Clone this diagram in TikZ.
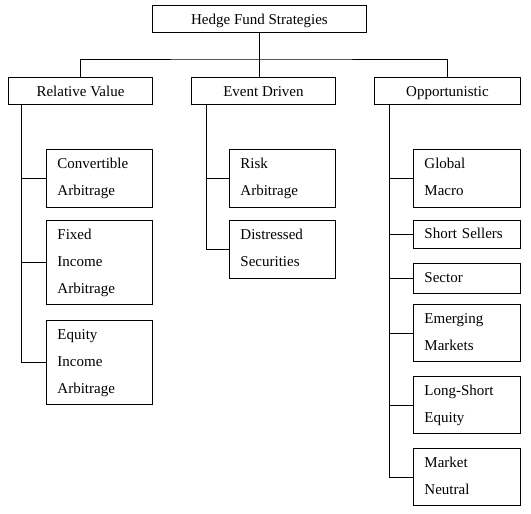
\documentclass[tikz,border=0pt]{standalone}
\usepackage{fontspec}
\setmainfont{Liberation Serif}
\begin{document}
\begin{tikzpicture}[x=1pt,y=-1pt,
  box/.style={draw=black, line width=0.9pt, inner sep=0pt, anchor=north west,
    font=\fontsize{15}{27}\selectfont, text=black},
  head/.style={box, align=center, minimum height=27pt, text height=11pt, text depth=-2pt},
  leaf/.style={box, align=left, inner xsep=11pt, minimum width=#1, text width=#1-22pt,
    execute at begin node={\rule[-4pt]{0pt}{16pt}}, execute at end node={\rule[-4pt]{0pt}{16pt}}},
  conn/.style={draw=black, line width=0.9pt}]
\useasboundingbox (0,0) rectangle (531,514);
% level 0 and 1
\node[head, minimum width=214pt] (top) at (152,5) {Hedge Fund Strategies};
\node[head, minimum width=144pt] (rv) at (8,77) {Relative Value};
\node[head, minimum width=144pt] (ed) at (191,77) {Event Driven};
\node[head, minimum width=146pt] (op) at (374,77) {Opportunistic};
% relative value
\node[leaf=106pt, minimum height=58pt] (conv) at (46,149) {Convertible\\Arbitrage};
\node[leaf=106pt, minimum height=84pt] (fia) at (46,220) {Fixed\\Income\\Arbitrage};
\node[leaf=106pt, minimum height=84pt] (eia) at (46,320) {Equity\\Income\\Arbitrage};
% event driven
\node[leaf=106pt, minimum height=58pt] (risk) at (229,149) {Risk\\Arbitrage};
\node[leaf=106pt, minimum height=58pt] (dist) at (229,220) {Distressed\\Securities};
% opportunistic
\node[leaf=107pt, minimum height=58pt] (gm) at (413,149) {Global\\Macro};
\node[leaf=107pt, minimum height=28pt] (ss) at (413,220) {Short Sellers};
\node[leaf=107pt, minimum height=30pt] (sec) at (413,263) {Sector};
\node[leaf=107pt, minimum height=57pt] (em) at (413,304) {Emerging\\Markets};
\node[leaf=107pt, minimum height=57pt] (ls) at (413,376) {Long-Short\\Equity};
\node[leaf=107pt, minimum height=57pt] (mn) at (413,448) {Market\\Neutral};
% connectors
\coordinate (bus) at (259,59);
\draw[conn] (top.south) -- (top.south |- ed.north);
\draw[conn] (rv.north) |- (bus) -| (op.north);
\coordinate (rvt) at ([xshift=13pt]rv.south west);
\coordinate (edt) at ([xshift=15pt]ed.south west);
\coordinate (opt) at ([xshift=15pt]op.south west);
\draw[conn] (rvt) |- (eia.west);
\draw[conn] (rvt |- conv.west) -- (conv.west);
\draw[conn] (rvt |- fia.west) -- (fia.west);
\draw[conn] (edt) |- (dist.west);
\draw[conn] (edt |- risk.west) -- (risk.west);
\draw[conn] (opt) |- (mn.west);
\draw[conn] (opt |- gm.west) -- (gm.west);
\draw[conn] (opt |- ss.west) -- (ss.west);
\draw[conn] (opt |- sec.west) -- (sec.west);
\draw[conn] (opt |- em.west) -- (em.west);
\draw[conn] (opt |- ls.west) -- (ls.west);
\end{tikzpicture}
\end{document}
